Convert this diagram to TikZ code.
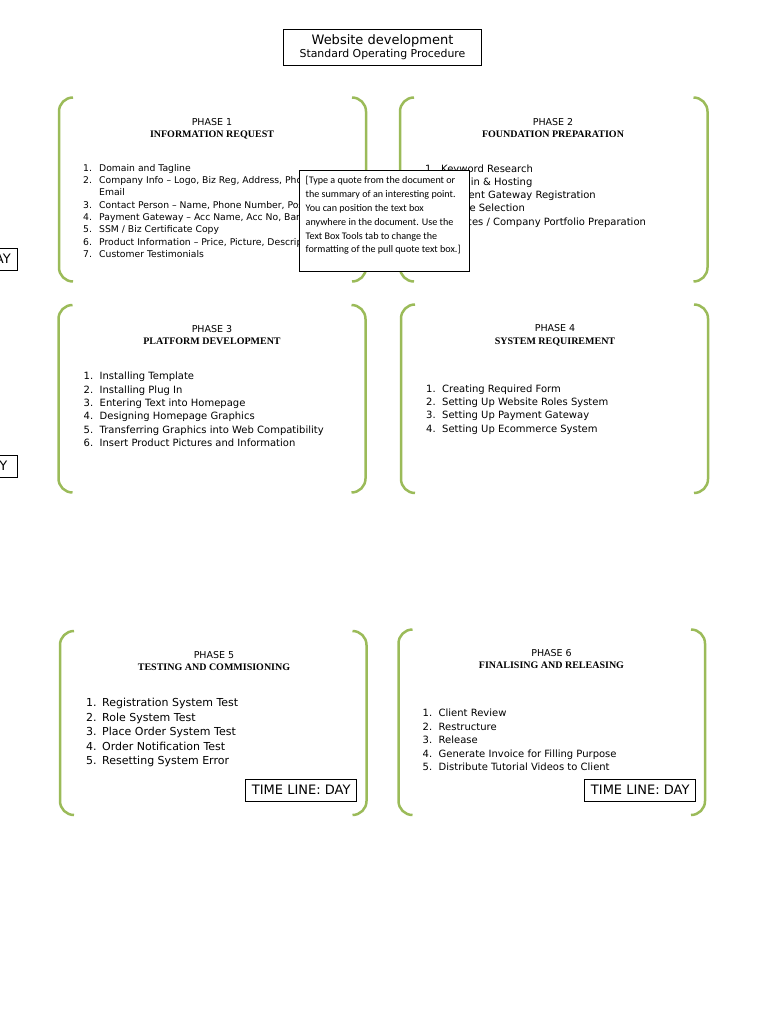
\documentclass[tikz,border=0pt]{standalone}
\usepackage{fontspec}
\setmainfont{DejaVu Sans}
\newfontfamily\headfont{Liberation Serif}
\newfontfamily\quotefont{Carlito}
\usepackage{tikz}
\usetikzlibrary{positioning}
\definecolor{phasegreen}{HTML}{9BBB59}
\newcommand{\stepno}[1]{\makebox[16pt][l]{#1}}
% green bracket pair: left x, right x, top y, bottom y
\newcommand{\phaseframe}[4]{%
  \draw[bracket] (#1+14,#3) -- (#1,#3) -- (#1,#4) -- (#1+14,#4);
  \draw[bracket] (#2-14,#3) -- (#2,#3) -- (#2,#4) -- (#2-14,#4);}

\begin{document}
\begin{tikzpicture}[x=1pt, y=-1pt,
    bracket/.style={draw=phasegreen, line width=2.5pt, rounded corners=14pt},
    phase/.style={font=\fontsize{9.5}{11}\selectfont, inner sep=0},
    heading/.style={font=\headfont\bfseries\fontsize{10}{12}\selectfont, inner sep=0},
    steps/.style={align=left, anchor=north west, inner sep=0},
    timebox/.style={draw, line width=0.6pt, minimum width=111pt, minimum height=22pt,
        font=\fontsize{13}{15}\selectfont, inner sep=0},
    node distance=5pt
]
\useasboundingbox (0,0) rectangle (768,1024);
\clip (0,0) rectangle (768,1024);

\node[draw, line width=0.6pt, minimum width=198pt, minimum height=36pt, align=center, inner sep=0]
    (title) at (382.5,47) {\fontsize{13}{14}\selectfont Website development\\[1pt]
    \fontsize{10.9}{13}\selectfont Standard Operating Procedure};

% phase 1
\phaseframe{59}{366}{97.5}{281.5}
\node[phase] (p1) at (212,122) {PHASE 1};
\node[heading, below=of p1] (h1) {INFORMATION REQUEST};
\node[steps, font=\fontsize{9.25}{12.3}\selectfont] (s1) at (83,164) {%
    \stepno{1.}Domain and Tagline\\
    \stepno{2.}Company Info -- Logo, Biz Reg, Address, Phone, Fax,\\
    \stepno{}Email\\
    \stepno{3.}Contact Person -- Name, Phone Number, Position\\
    \stepno{4.}Payment Gateway -- Acc Name, Acc No, Bank\\
    \stepno{5.}SSM / Biz Certificate Copy\\
    \stepno{6.}Product Information -- Price, Picture, Description\\
    \stepno{7.}Customer Testimonials};

% phase 2
\phaseframe{400}{707.5}{97.5}{281.5}
\node[phase] (p2) at (553,122) {PHASE 2};
\node[heading, below=of p2] (h2) {FOUNDATION PREPARATION};
\node[steps, font=\fontsize{10}{13.3}\selectfont] (s2) at (425,164.3) {%
    \stepno{1.}Keyword Research\\
    \stepno{2.}Domain \& Hosting\\
    \stepno{3.}Payment Gateway Registration\\
    \stepno{4.}Theme Selection\\
    \stepno{5.}Services / Company Portfolio Preparation};

% pull quote
\node[draw, fill=white, line width=0.6pt, anchor=north west, minimum width=170pt,
    minimum height=101pt, inner sep=0] (quote) at (299,170) {};
\node[steps, font=\quotefont\fontsize{10.1}{13.8}\selectfont] (quotetext) at (305.5,176.5) {%
    [Type a quote from the document or\\
    the summary of an interesting point.\\
    You can position the text box\\
    anywhere in the document. Use the\\
    Text Box Tools tab to change the\\
    formatting of the pull quote text box.]};

% timeline boxes cut off at the page edge
\node[timebox] (t1) at (-38.5,259) {TIME LINE: DAY};
\node[timebox, minimum width=118pt] (t2) at (-42,466) {TIME LINE: DAY};

% phase 3
\phaseframe{58.5}{365.5}{305}{492.5}
\node[phase] (p3) at (212,329) {PHASE 3};
\node[heading, below=of p3] (h3) {PLATFORM DEVELOPMENT};
\node[steps, font=\fontsize{10}{13.35}\selectfont] (s3) at (83.5,372) {%
    \stepno{1.}Installing Template\\
    \stepno{2.}Installing Plug In\\
    \stepno{3.}Entering Text into Homepage\\
    \stepno{4.}Designing Homepage Graphics\\
    \stepno{5.}Transferring Graphics into Web Compatibility\\
    \stepno{6.}Insert Product Pictures and Information};

% phase 4
\phaseframe{401}{708}{304.5}{493}
\node[phase] (p4) at (555,328.5) {PHASE 4};
\node[heading, below=of p4] (h4) {SYSTEM REQUIREMENT};
\node[steps, font=\fontsize{10}{13.3}\selectfont] (s4) at (426,384.3) {%
    \stepno{1.}Creating Required Form\\
    \stepno{2.}Setting Up Website Roles System\\
    \stepno{3.}Setting Up Payment Gateway\\
    \stepno{4.}Setting Up Ecommerce System};

% phase 5
\phaseframe{60}{366.5}{631}{815}
\node[phase] (p5) at (214,655) {PHASE 5};
\node[heading, below=of p5] (h5) {TESTING AND COMMISIONING};
\node[steps, font=\fontsize{11}{14.5}\selectfont] (s5) at (86,698) {%
    \stepno{1.}Registration System Test\\
    \stepno{2.}Role System Test\\
    \stepno{3.}Place Order System Test\\
    \stepno{4.}Order Notification Test\\
    \stepno{5.}Resetting System Error};
\node[timebox] (t5) at (301.2,790.2) {TIME LINE: DAY};

% phase 6
\phaseframe{398.5}{705}{629.5}{815}
\node[phase] (p6) at (551.5,653) {PHASE 6};
\node[heading, below=of p6] (h6) {FINALISING AND RELEASING};
\node[steps, font=\fontsize{10}{13.6}\selectfont] (s6) at (422.5,708.7) {%
    \stepno{1.}Client Review\\
    \stepno{2.}Restructure\\
    \stepno{3.}Release\\
    \stepno{4.}Generate Invoice for Filling Purpose\\
    \stepno{5.}Distribute Tutorial Videos to Client};
\node[timebox] (t6) at (640.2,790) {TIME LINE: DAY};
\end{tikzpicture}
\end{document}
